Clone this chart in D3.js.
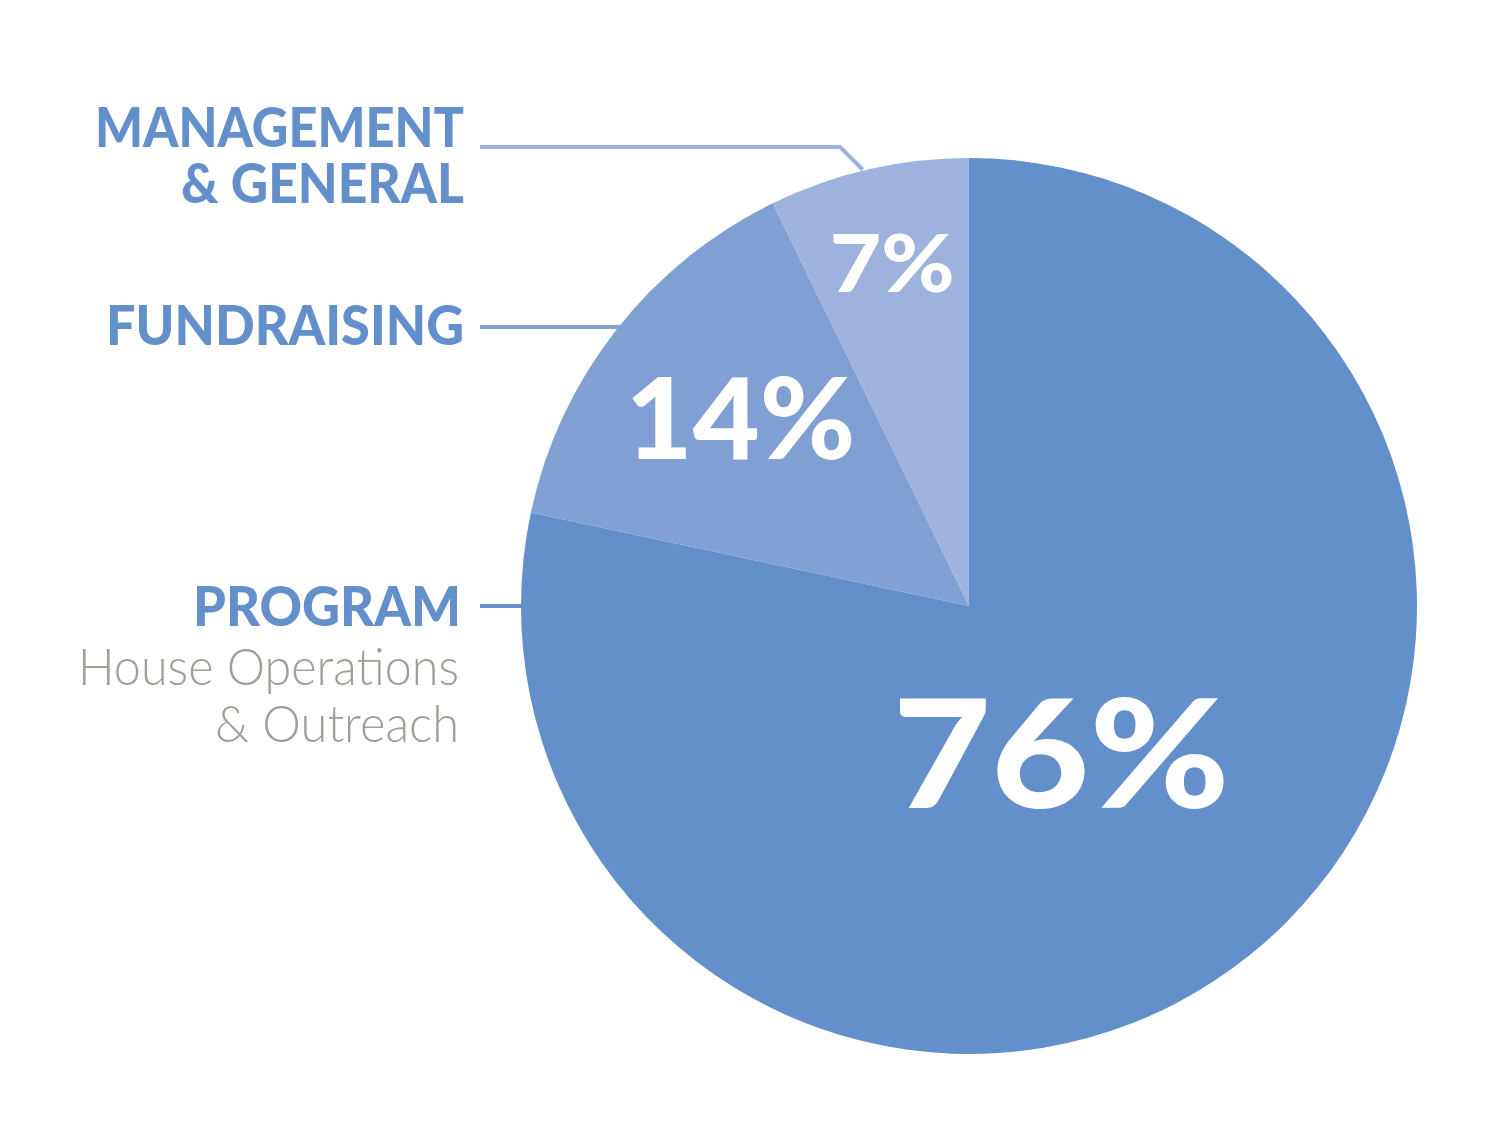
<!DOCTYPE html>
<html>
<head>
<meta charset="utf-8">
<script src="https://cdn.jsdelivr.net/npm/d3@7"></script>
<style>
  body { margin: 0; background: #fff; }
  svg { display: block; }
</style>
</head>
<body>
<svg width="1488" height="1138"></svg>
<script>
// data
var categories = ["PROGRAM", "FUNDRAISING", "MANAGEMENT & GENERAL"];
var shares = [76, 14, 7];
var sliceColors = ["#638fca", "#809fd3", "#9db3dd"];
var subtitle = ["House Operations", "& Outreach"];

var svg = d3.select("svg"),
    cx = 969, cy = 606, radius = 448;

var pie = d3.pie().sort(null).value(function(d) { return d; });
var arcs = pie(shares);
var arc = d3.arc().innerRadius(0).outerRadius(radius);

var g = svg.append("g").attr("transform", "translate(" + cx + "," + cy + ")");

g.selectAll("path.slice")
  .data(arcs)
  .enter().append("path")
  .attr("class", "slice")
  .attr("d", arc)
  .attr("fill", function(d, i) { return sliceColors[i]; });

// percent labels: nudged off the mid angle, own distance / size / width
var pctTurn = [0.118, 0.025, 0.007];   // radians past mid angle
var pctRadius = [173, 296, 352];
var pctSize = [151, 112, 80];
var pctWidth = [337, 230, 125];
g.selectAll("text.pct")
  .data(arcs)
  .enter().append("text")
  .attr("class", "pct")
  .attr("transform", function(d, i) {
    var a = (d.startAngle + d.endAngle) / 2 + pctTurn[i];
    return "translate(" + (Math.sin(a) * pctRadius[i]) + "," + (-Math.cos(a) * pctRadius[i]) + ")";
  })
  .attr("x", function(d, i) { return -pctWidth[i] / 2; })
  .attr("dy", "0.37em")
  .attr("textLength", function(d, i) { return pctWidth[i]; })
  .attr("lengthAdjust", "spacingAndGlyphs")
  .attr("fill", "#fff")
  .style("font-family", "Lato, 'DejaVu Sans', sans-serif")
  .style("font-weight", 900)
  .style("font-size", function(d, i) { return pctSize[i] + "px"; })
  .text(function(d) { return d.data + "%"; });

// leader lines
var labelFont = "Lato, 'DejaVu Sans', sans-serif";
var lines = svg.append("g").attr("fill", "none").attr("stroke-width", 4);

// program: straight to left edge of pie
lines.append("line")
  .attr("x1", 480).attr("x2", cx - radius + 2).attr("y1", cy).attr("y2", cy)
  .attr("stroke", sliceColors[0]);

// fundraising: horizontal to where it meets the slice edge
var fy = 327;
var fx = cx - Math.sqrt(radius * radius - (fy - cy) * (fy - cy));
lines.append("line")
  .attr("x1", 480).attr("x2", fx + 2).attr("y1", fy).attr("y2", fy)
  .attr("stroke", sliceColors[1]);

// management: horizontal then 45deg down to the arc near slice middle
var ma = (arcs[2].startAngle + arcs[2].endAngle) / 2 - 0.012;
var mEnd = [cx + Math.sin(ma) * (radius + 1), cy - Math.cos(ma) * (radius + 1)];
lines.append("polyline")
  .attr("points", [[480, 147], [mEnd[0] - (mEnd[1] - 147), 147], mEnd].join(" "))
  .attr("stroke", sliceColors[2]);

// category labels (multi-line ones as tspans)
var labelBlocks = [
  { rows: [{ text: "MANAGEMENT", y: 147, w: 369 }, { text: "& GENERAL", y: 203, w: 283 }], x: 464 },
  { rows: [{ text: categories[1], y: 345, w: 358 }], x: 464 },
  { rows: [{ text: categories[0], y: 626, w: 268 }], x: 461 }
];
var blocks = svg.append("g")
  .attr("fill", sliceColors[0])
  .style("font-family", labelFont)
  .style("font-weight", 900)
  .style("font-size", "55px")
  .selectAll("text")
  .data(labelBlocks)
  .enter().append("text");

blocks.selectAll("tspan")
  .data(function(d) { return d.rows.map(function(r) { return Object.assign({ x: d.x }, r); }); })
  .enter().append("tspan")
  .attr("x", function(d) { return d.x - d.w; })
  .attr("y", function(d) { return d.y; })
  .attr("textLength", function(d) { return d.w; })
  .attr("lengthAdjust", "spacingAndGlyphs")
  .text(function(d) { return d.text; });

var subWidth = [381, 244];
svg.append("text")
  .attr("fill", "#a19e95")
  .style("font-family", labelFont)
  .style("font-weight", 300)
  .style("font-size", "52px")
  .selectAll("tspan")
  .data(subtitle)
  .enter().append("tspan")
  .attr("x", function(d, i) { return 459 - subWidth[i]; })
  .attr("y", function(d, i) { return 685 + i * 57; })
  .attr("textLength", function(d, i) { return subWidth[i]; })
  .attr("lengthAdjust", "spacingAndGlyphs")
  .text(function(d) { return d; });
</script>
</body>
</html>
